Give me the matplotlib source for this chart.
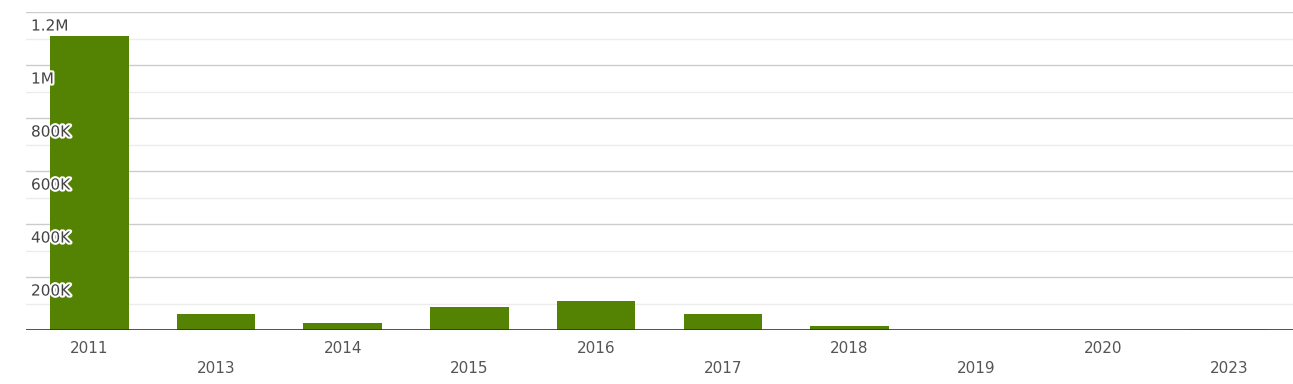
import matplotlib
matplotlib.use("Agg")
import matplotlib.pyplot as plt
import matplotlib.patheffects as pe
from matplotlib.transforms import blended_transform_factory

years = ["2011", "2013", "2014", "2015", "2016", "2017", "2018", "2019", "2020", "2023"]
values = [1110000, 60000, 26000, 87000, 109000, 60000, 15000, 0, 0, 4000]
bar_colors = ["#548203"] * 9 + ["#d3d7c6"]
ytick_vals = [200000, 400000, 600000, 800000, 1000000, 1200000]
ytick_labels = ["200K", "400K", "600K", "800K", "1M", "1.2M"]

W, H = 1293, 384
fig = plt.figure(figsize=(W / 100, H / 100), dpi=100)
ax = fig.add_axes([26 / W, (H - 330) / H, (W - 26) / W, 318 / H])

x = list(range(len(years)))
ax.bar(x, values, width=0.62, color=bar_colors, zorder=2)
ax.set_xlim(-0.5, len(years) - 0.5)
ax.set_ylim(0, 1200000)

# gridlines
for v in range(100000, 1200001, 100000):
    major = v % 200000 == 0
    ax.axhline(v, color="#cccccc" if major else "#ececec", lw=1, zorder=1)
ax.axhline(0, color="#333333", lw=1.2, zorder=3)

for s in ax.spines.values():
    s.set_visible(False)
ax.set_xticks([])
ax.set_yticks([])

# y labels inside the plot, just under each gridline
tr = blended_transform_factory(ax.transAxes, ax.transData)
for v, lab in zip(ytick_vals, ytick_labels):
    ax.text(5 / (W - 26), v - 53000, lab, transform=tr, fontsize=11, color="#444444",
            ha="left", va="center", zorder=4,
            path_effects=[pe.withStroke(linewidth=3, foreground="white")])

# x labels, staggered in two rows
trx = blended_transform_factory(ax.transData, ax.transAxes)
for i, y in enumerate(years):
    yoff = -0.057 if i % 2 == 0 else -0.12
    ax.text(i, yoff, y, transform=trx, fontsize=11, color="#555555",
            ha="center", va="center")

fig.savefig("out.png", dpi=100)
